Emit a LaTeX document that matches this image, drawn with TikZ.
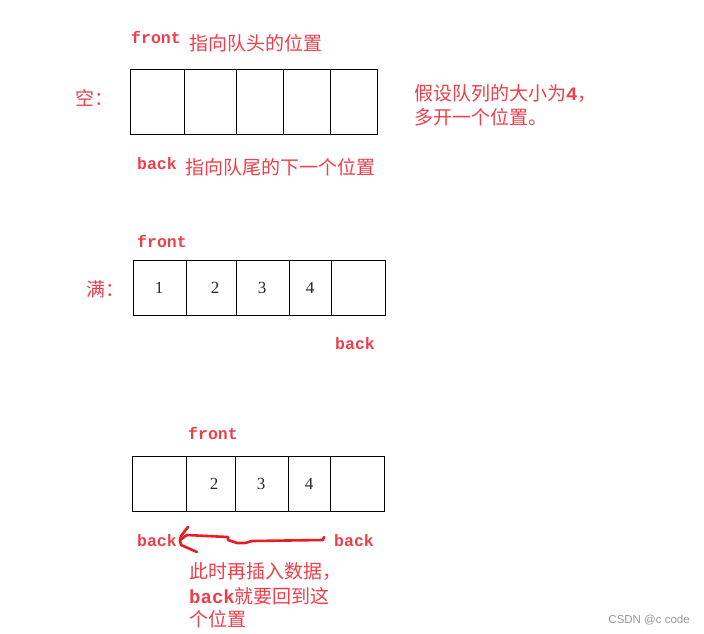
\documentclass[tikz,border=0pt]{standalone}
\usepackage{fontspec}
\setmainfont{Liberation Serif}
\newfontfamily\cjk{Noto Sans CJK SC}
\newfontfamily\monob{Liberation Mono}[BoldFont={Liberation Mono Bold}]
\newfontfamily\wmfont{Liberation Sans}
\definecolor{lbl}{RGB}{238,62,74}
\definecolor{arr}{RGB}{232,28,36}
\definecolor{wm}{RGB}{150,150,150}
\definecolor{num}{RGB}{40,40,40}
\tikzset{
  cell/.style={draw=black, line width=0.95pt, inner sep=0pt},
  ptr/.style={text=lbl, font=\monob\bfseries\fontsize{16.5}{18}\selectfont, inner sep=0pt},
  zh/.style={text=lbl, font=\cjk\fontsize{19}{22}\selectfont, inner sep=0pt, anchor=west},
  numtxt/.style={text=num, font=\fontsize{17}{19}\selectfont, inner sep=0pt},
  hand/.style={draw=arr, line width=2.6pt, line join=round, line cap=round}
}
\newcommand{\bk}{{\monob\bfseries back}}
\begin{document}
\begin{tikzpicture}[x=1pt,y=-1pt]
\useasboundingbox (0,0) rectangle (704,634);
% ---------- empty queue ----------
\node[ptr] (f1) at (156,37) {front};
\node[zh] (f1t) at (189,43) {指向队头的位置};
\node[zh] (e) at (75,98) {空：};
\node[cell, minimum width=54pt, minimum height=65pt] (a1) at (157,101.5) {};
\node[cell, minimum width=52pt, minimum height=65pt] (a2) at (210,101.5) {};
\node[cell, minimum width=47pt, minimum height=65pt] (a3) at (259.5,101.5) {};
\node[cell, minimum width=47pt, minimum height=65pt] (a4) at (306.5,101.5) {};
\node[cell, minimum width=47pt, minimum height=65pt] (a5) at (353.5,101.5) {};
\node[ptr] (b1) at (157,164) {back};
\node[zh] (b1t) at (185,167) {指向队尾的下一个位置};
\node[zh] (n1) at (414,93) {假设队列的大小为{\monob\bfseries 4}，};
\node[zh] (n2) at (414,117) {多开一个位置。};
% ---------- full queue ----------
\node[ptr] (f2) at (162,241) {front};
\node[zh] (fu) at (86,289) {满：};
\node[cell, minimum width=53pt, minimum height=55pt] (c1) at (159.5,287.5) {};
\node[cell, minimum width=50pt, minimum height=55pt] (c2) at (211,287.5) {};
\node[cell, minimum width=53pt, minimum height=55pt] (c3) at (262.5,287.5) {};
\node[cell, minimum width=42pt, minimum height=55pt] (c4) at (310,287.5) {};
\node[cell, minimum width=54pt, minimum height=55pt] (c5) at (358,287.5) {};
\node[numtxt] (v1) at (159,288) {1};
\node[numtxt] (v2) at (215,288) {2};
\node[numtxt] (v3) at (262,288) {3};
\node[numtxt] (v4) at (310,288) {4};
\node[ptr] (b2) at (355,344) {back};
% ---------- wrap around ----------
\node[ptr] (f3) at (213,433) {front};
\node[cell, minimum width=54pt, minimum height=55pt] (d1) at (159,483.5) {};
\node[cell, minimum width=49pt, minimum height=55pt] (d2) at (210.5,483.5) {};
\node[cell, minimum width=53pt, minimum height=55pt] (d3) at (261.5,483.5) {};
\node[cell, minimum width=42pt, minimum height=55pt] (d4) at (309,483.5) {};
\node[cell, minimum width=54pt, minimum height=55pt] (d5) at (357,483.5) {};
\node[numtxt] (w2) at (214,484) {2};
\node[numtxt] (w3) at (261,484) {3};
\node[numtxt] (w4) at (309,484) {4};
\node[ptr] (b3l) at (157,541) {back};
\node[ptr] (b3r) at (354,541) {back};
\coordinate (arrS) at (324,537);
\coordinate (arrT) at (180,540);
\draw[hand] (arrS) -- (323,540) -- (252,541) -- (245,543) -- (237,543) -- (228,540) -- (228,537) -- (207,536) -- (187,535) -- (arrT);
\draw[hand] (188,527) -- (181,536) -- (arrT) -- (181,545) -- (197,552);
\node[zh] (t1) at (189,572) {此时再插入数据，};
\node[zh] (t2) at (189,596) {\bk 就要回到这};
\node[zh] (t3) at (189,619) {个位置};
\node[text=wm, font=\wmfont\fontsize{11.5}{13}\selectfont, inner sep=0pt, anchor=east] (wmk) at (690,620) {CSDN @c code};
\end{tikzpicture}
\end{document}
